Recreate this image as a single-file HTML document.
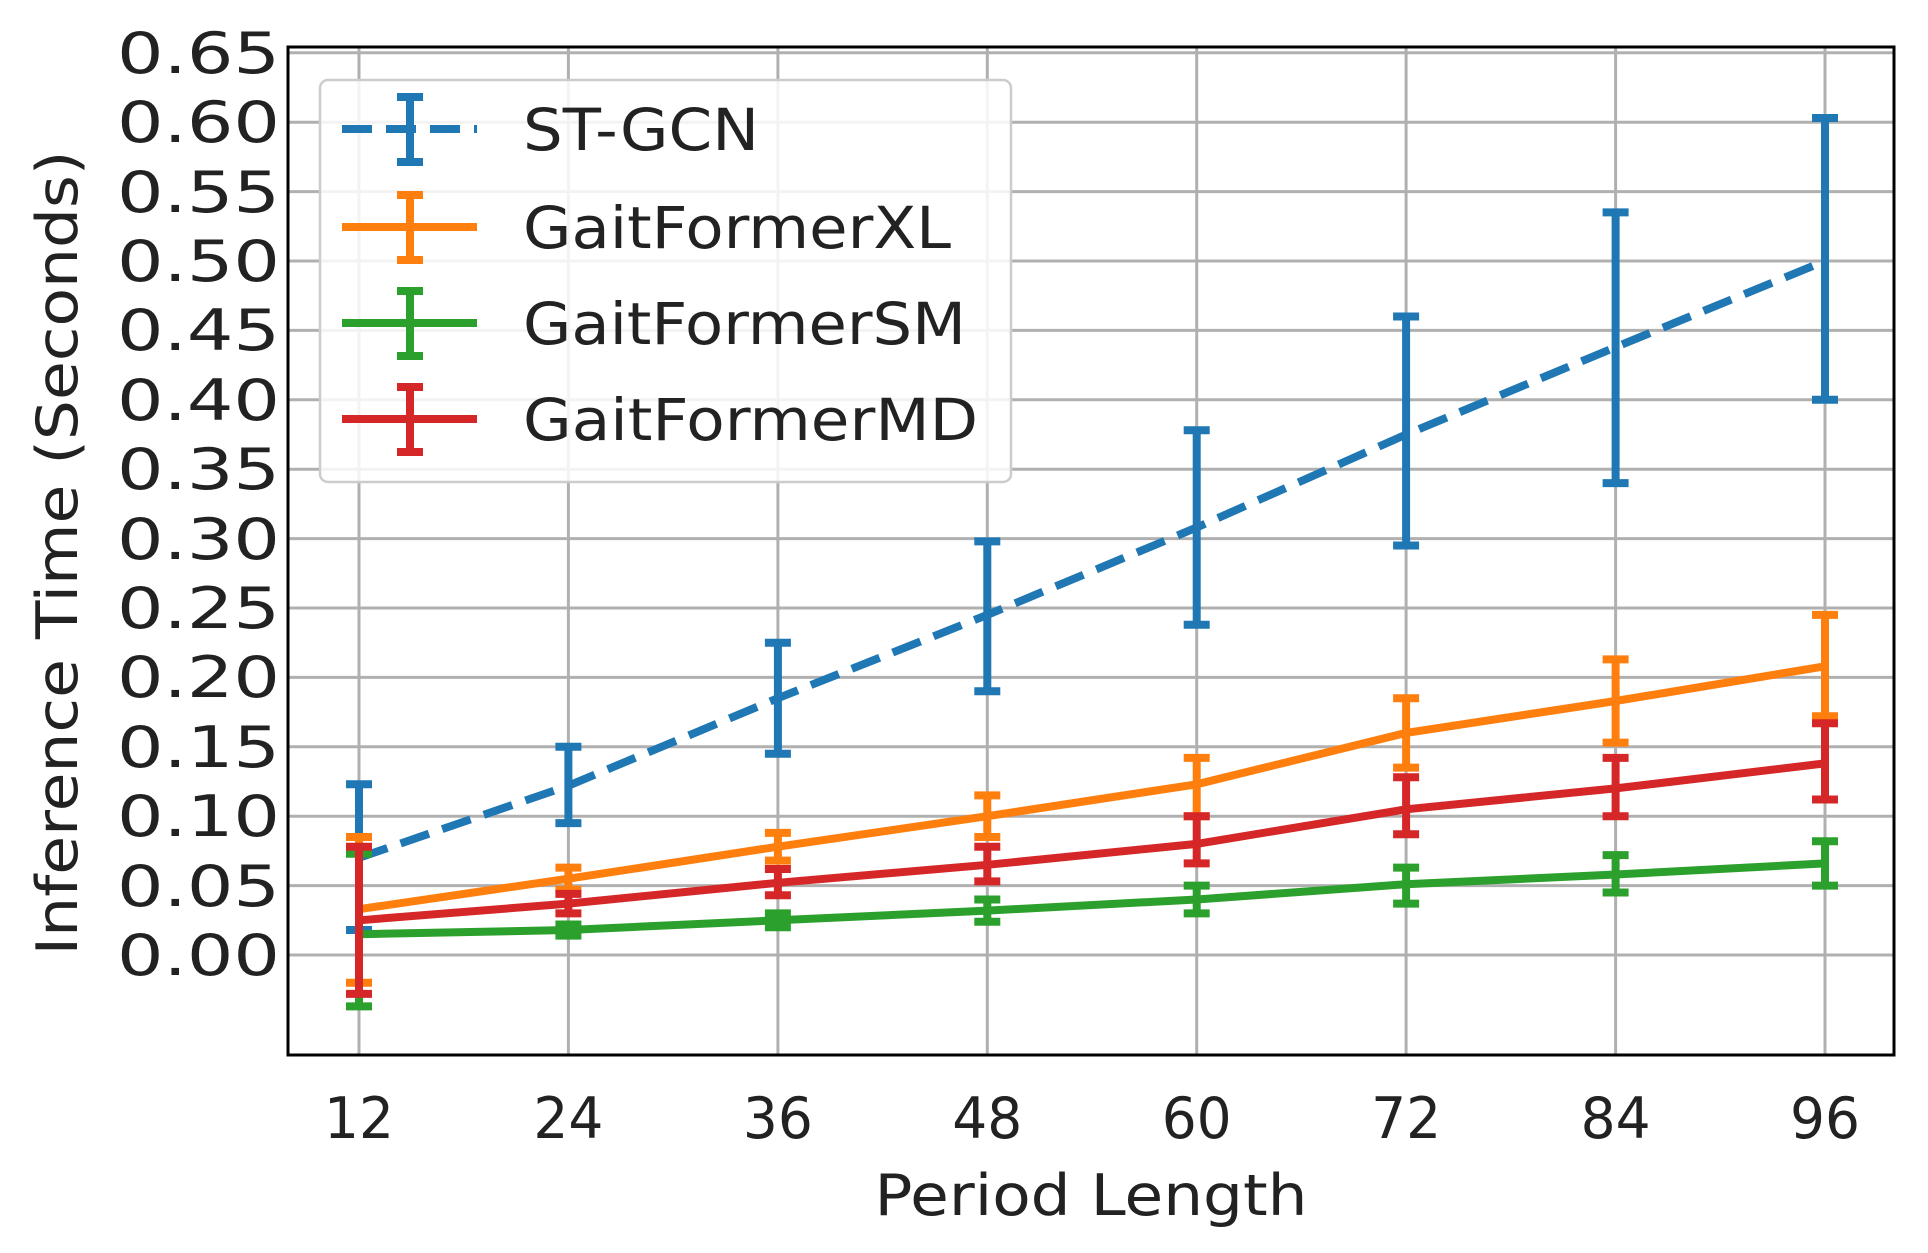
<!DOCTYPE html>
<html><head><style>body{margin:0;background:#fff}svg{display:block}</style></head><body>
<svg width="1928" height="1253" xmlns="http://www.w3.org/2000/svg" font-family="DejaVu Sans, Liberation Sans, sans-serif">
<rect width="1928" height="1253" fill="#fff"/>
<g stroke="#b0b0b0" stroke-width="3">
<line x1="359" y1="47" x2="359" y2="1055"/><line x1="568.4" y1="47" x2="568.4" y2="1055"/><line x1="777.9" y1="47" x2="777.9" y2="1055"/><line x1="987.3" y1="47" x2="987.3" y2="1055"/><line x1="1196.7" y1="47" x2="1196.7" y2="1055"/><line x1="1406.1" y1="47" x2="1406.1" y2="1055"/><line x1="1615.6" y1="47" x2="1615.6" y2="1055"/><line x1="1825" y1="47" x2="1825" y2="1055"/>
<line x1="288" y1="955" x2="1894" y2="955"/><line x1="288" y1="885.6" x2="1894" y2="885.6"/><line x1="288" y1="816.2" x2="1894" y2="816.2"/><line x1="288" y1="746.8" x2="1894" y2="746.8"/><line x1="288" y1="677.4" x2="1894" y2="677.4"/><line x1="288" y1="608" x2="1894" y2="608"/><line x1="288" y1="538.6" x2="1894" y2="538.6"/><line x1="288" y1="469.2" x2="1894" y2="469.2"/><line x1="288" y1="399.8" x2="1894" y2="399.8"/><line x1="288" y1="330.4" x2="1894" y2="330.4"/><line x1="288" y1="261" x2="1894" y2="261"/><line x1="288" y1="191.6" x2="1894" y2="191.6"/><line x1="288" y1="122.2" x2="1894" y2="122.2"/><line x1="288" y1="52.8" x2="1894" y2="52.8"/>
</g>
<g fill="none" stroke-width="8" stroke-linecap="butt">
<g stroke="#1f77b4">
<polyline stroke-dasharray="30,14" points="359,857.8 568.4,785.7 777.9,698.2 987.3,614.9 1196.7,527.5 1406.1,434.5 1615.6,347.1 1825,261"/>
<path d="M359 930V784.3M346 930h26M346 784.3h26 M568.4 823.1V746.8M555.4 823.1h26M555.4 746.8h26 M777.9 753.7V642.7M764.9 753.7h26M764.9 642.7h26 M987.3 691.3V541.4M974.3 691.3h26M974.3 541.4h26 M1196.7 624.7V430.3M1183.7 624.7h26M1183.7 430.3h26 M1406.1 545.5V316.5M1393.1 545.5h26M1393.1 316.5h26 M1615.6 483.1V212.4M1602.6 483.1h26M1602.6 212.4h26 M1825 399.8V118M1812 399.8h26M1812 118h26"/>
</g>
<g stroke="#ff7f0e">
<polyline points="359,909.2 568.4,878.7 777.9,846.7 987.3,816.2 1196.7,784.3 1406.1,732.9 1615.6,701 1825,666.3"/>
<path d="M359 982.8V837M346 982.8h26M346 837h26 M568.4 889.8V867.6M555.4 889.8h26M555.4 867.6h26 M777.9 860.6V832.9M764.9 860.6h26M764.9 832.9h26 M987.3 837V795.4M974.3 837h26M974.3 795.4h26 M1196.7 816.2V757.9M1183.7 816.2h26M1183.7 757.9h26 M1406.1 767.6V698.2M1393.1 767.6h26M1393.1 698.2h26 M1615.6 742.6V659.4M1602.6 742.6h26M1602.6 659.4h26 M1825 716.3V614.9M1812 716.3h26M1812 614.9h26"/>
</g>
<g stroke="#2ca02c">
<polyline points="359,934.2 568.4,930 777.9,920.3 987.3,910.6 1196.7,899.5 1406.1,884.2 1615.6,874.5 1825,863.4"/>
<path d="M359 1006.4V853.7M346 1006.4h26M346 853.7h26 M568.4 935.6V924.5M555.4 935.6h26M555.4 924.5h26 M777.9 927.2V913.4M764.9 927.2h26M764.9 913.4h26 M987.3 921.7V899.5M974.3 921.7h26M974.3 899.5h26 M1196.7 913.4V885.6M1183.7 913.4h26M1183.7 885.6h26 M1406.1 903.6V867.6M1393.1 903.6h26M1393.1 867.6h26 M1615.6 892.5V855.1M1602.6 892.5h26M1602.6 855.1h26 M1825 885.6V841.2M1812 885.6h26M1812 841.2h26"/>
</g>
<g stroke="#d62728">
<polyline points="359,920.3 568.4,903.6 777.9,882.8 987.3,864.8 1196.7,843.9 1406.1,809.3 1615.6,788.4 1825,763.4"/>
<path d="M359 993.9V846.7M346 993.9h26M346 846.7h26 M568.4 913.4V893.9M555.4 913.4h26M555.4 893.9h26 M777.9 895.3V869M764.9 895.3h26M764.9 869h26 M987.3 881.4V846.7M974.3 881.4h26M974.3 846.7h26 M1196.7 863.4V816.2M1183.7 863.4h26M1183.7 816.2h26 M1406.1 834.2V777.3M1393.1 834.2h26M1393.1 777.3h26 M1615.6 816.2V757.9M1602.6 816.2h26M1602.6 757.9h26 M1825 799.5V723.2M1812 799.5h26M1812 723.2h26"/>
</g>
</g>
<rect x="288" y="47" width="1606" height="1008" fill="none" stroke="#000" stroke-width="3"/>
<rect x="320" y="80" width="691" height="402" rx="8" fill="#fff" fill-opacity="0.85" stroke="#ccc" stroke-width="2.5"/>
<g fill="none" stroke-width="8">
<line x1="342" y1="129" x2="477" y2="129" stroke="#1f77b4" stroke-dasharray="30,14"/><path d="M410 97V162M397 97h26M397 162h26" stroke="#1f77b4"/>
<line x1="342" y1="227" x2="477" y2="227" stroke="#ff7f0e"/><path d="M410 195V260M397 195h26M397 260h26" stroke="#ff7f0e"/>
<line x1="342" y1="323" x2="477" y2="323" stroke="#2ca02c"/><path d="M410 291V356M397 291h26M397 356h26" stroke="#2ca02c"/>
<line x1="342" y1="419" x2="477" y2="419" stroke="#d62728"/><path d="M410 387V452M397 387h26M397 452h26" stroke="#d62728"/>
</g>
<g font-size="58" fill="#222">
<text x="523" y="150" textLength="236" lengthAdjust="spacingAndGlyphs">ST-GCN</text>
<text x="523" y="248" textLength="428" lengthAdjust="spacingAndGlyphs">GaitFormerXL</text>
<text x="523" y="344" textLength="443" lengthAdjust="spacingAndGlyphs">GaitFormerSM</text>
<text x="523" y="440" textLength="455" lengthAdjust="spacingAndGlyphs">GaitFormerMD</text>
</g>
<g font-size="57" fill="#222" text-anchor="end">
<text x="280" y="975" textLength="163" lengthAdjust="spacingAndGlyphs">0.00</text>
<text x="280" y="906" textLength="163" lengthAdjust="spacingAndGlyphs">0.05</text>
<text x="280" y="836" textLength="163" lengthAdjust="spacingAndGlyphs">0.10</text>
<text x="280" y="767" textLength="163" lengthAdjust="spacingAndGlyphs">0.15</text>
<text x="280" y="697" textLength="163" lengthAdjust="spacingAndGlyphs">0.20</text>
<text x="280" y="628" textLength="163" lengthAdjust="spacingAndGlyphs">0.25</text>
<text x="280" y="559" textLength="163" lengthAdjust="spacingAndGlyphs">0.30</text>
<text x="280" y="489" textLength="163" lengthAdjust="spacingAndGlyphs">0.35</text>
<text x="280" y="420" textLength="163" lengthAdjust="spacingAndGlyphs">0.40</text>
<text x="280" y="350" textLength="163" lengthAdjust="spacingAndGlyphs">0.45</text>
<text x="280" y="281" textLength="163" lengthAdjust="spacingAndGlyphs">0.50</text>
<text x="280" y="212" textLength="163" lengthAdjust="spacingAndGlyphs">0.55</text>
<text x="280" y="142" textLength="163" lengthAdjust="spacingAndGlyphs">0.60</text>
<text x="280" y="73" textLength="163" lengthAdjust="spacingAndGlyphs">0.65</text>
</g>
<g font-size="57" fill="#222" text-anchor="middle">
<text x="359" y="1138" textLength="70" lengthAdjust="spacingAndGlyphs">12</text>
<text x="568.4" y="1138" textLength="70" lengthAdjust="spacingAndGlyphs">24</text>
<text x="777.9" y="1138" textLength="70" lengthAdjust="spacingAndGlyphs">36</text>
<text x="987.3" y="1138" textLength="70" lengthAdjust="spacingAndGlyphs">48</text>
<text x="1196.7" y="1138" textLength="70" lengthAdjust="spacingAndGlyphs">60</text>
<text x="1406.1" y="1138" textLength="70" lengthAdjust="spacingAndGlyphs">72</text>
<text x="1615.6" y="1138" textLength="70" lengthAdjust="spacingAndGlyphs">84</text>
<text x="1825" y="1138" textLength="70" lengthAdjust="spacingAndGlyphs">96</text>
<text x="1091" y="1215" textLength="433" lengthAdjust="spacingAndGlyphs">Period Length</text>
<text transform="translate(77,553) rotate(-90)" x="0" y="0" textLength="805" lengthAdjust="spacingAndGlyphs">Inference Time (Seconds)</text>
</g>
</svg>
</body></html>
